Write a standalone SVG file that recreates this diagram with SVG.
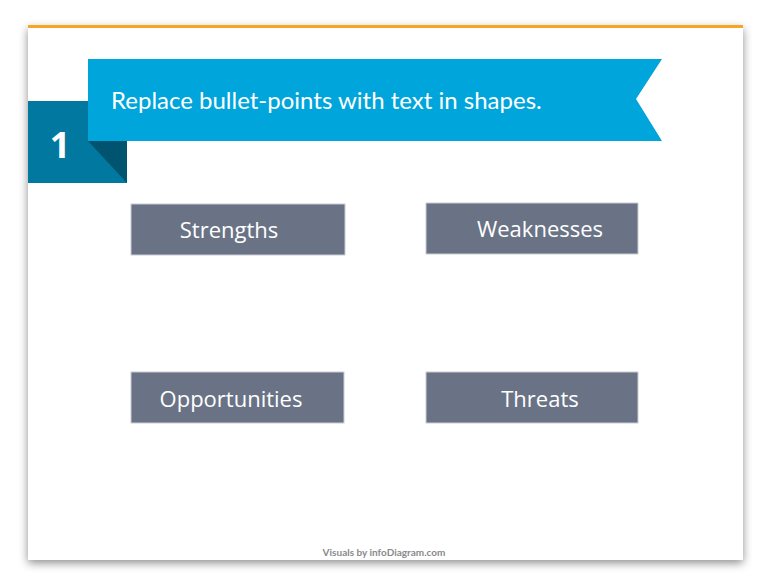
<svg xmlns="http://www.w3.org/2000/svg" width="768" height="586" viewBox="0 0 768 586">
<defs>
<filter id="sh" x="-5%" y="-5%" width="110%" height="115%"><feDropShadow dx="0" dy="3" stdDeviation="5" flood-color="#000" flood-opacity="0.45"/></filter>
<style>
.box{fill:#6a7386;stroke:#c9ccd3;stroke-width:1}
.bt{font-family:"Open Sans",sans-serif;font-size:22px;fill:#fff;text-anchor:middle}
</style>
</defs>
<rect width="768" height="586" fill="#fff"/>
<rect x="28" y="26" width="715" height="534" fill="#fff" filter="url(#sh)"/>
<rect x="28" y="25" width="715" height="3" fill="#f5a623"/>
<g id="header">
<rect x="28" y="101" width="99" height="82" fill="#0078a0"/>
<polygon points="88,141 127,141 127,183" fill="#005470"/>
<text x="60" y="158" font-family="Open Sans,sans-serif" font-weight="bold" font-size="36" fill="#fff" text-anchor="middle">1</text>
<polygon points="88,59 662,59 636,99 662,141 88,141" fill="#00a5dc"/>
<text x="111" y="109" font-family="Lato,sans-serif" font-size="24" fill="#fff">Replace bullet-points with text in shapes.</text>
</g>
<g id="strengths"><rect class="box" x="131" y="204" width="214" height="51"/><text class="bt" x="229" y="238">Strengths</text></g>
<g id="weaknesses"><rect class="box" x="426" y="203" width="212" height="51"/><text class="bt" x="540" y="237">Weaknesses</text></g>
<g id="opportunities"><rect class="box" x="131" y="372" width="213" height="51"/><text class="bt" x="231" y="407">Opportunities</text></g>
<g id="threats"><rect class="box" x="426" y="372" width="212" height="51"/><text class="bt" x="540" y="407">Threats</text></g>
<g id="connectors"/>
<text x="384" y="556" font-family="Lato,sans-serif" font-weight="bold" font-size="10" fill="#8a8a8a" text-anchor="middle">Visuals by infoDiagram.com</text>
</svg>
